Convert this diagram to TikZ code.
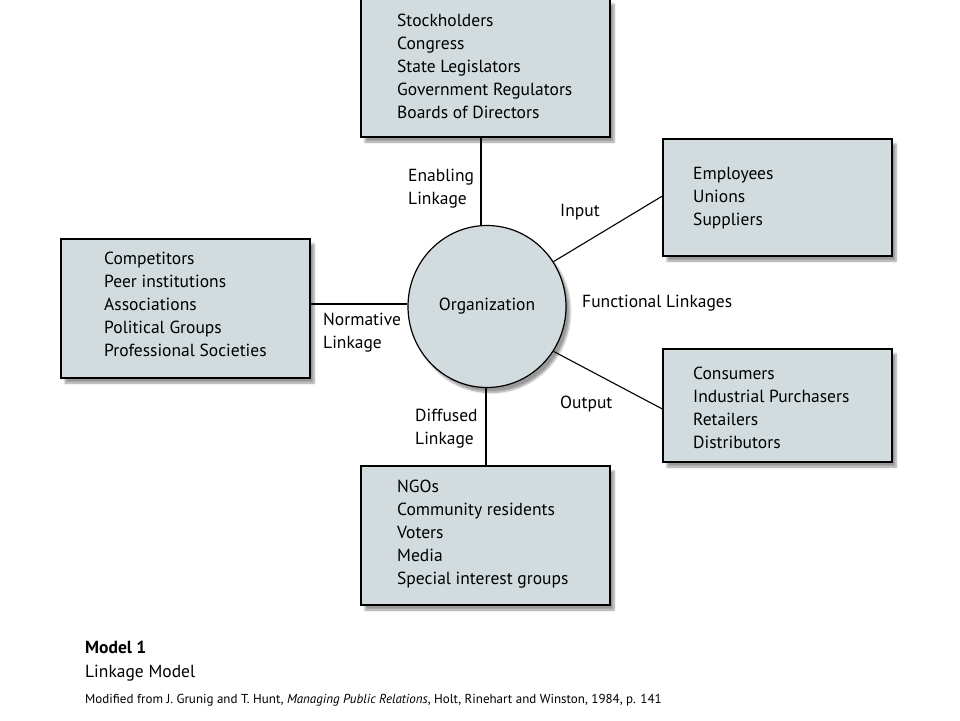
\documentclass[tikz,border=0pt]{standalone}
\usepackage{fontspec}
\setmainfont{PT Sans}
\usetikzlibrary{shadows.blur,shapes.geometric}
\definecolor{boxfill}{HTML}{D2DBDE}
\begin{document}
\begin{tikzpicture}[x=1pt,y=-1pt,
  box/.style={draw,line width=1.2pt,fill=boxfill,blur shadow={shadow xshift=4pt,shadow yshift=-5pt,shadow blur steps=6},minimum width=#1, inner sep=0pt},
  lst/.style={anchor=north west,align=left,font=\fontsize{17.5}{23}\selectfont,inner sep=0pt},
  ln/.style={line width=1.1pt}]
\useasboundingbox (0,0) rectangle (960,720);
\node[box=249pt,minimum height=138pt] (top) at (485.5,68) {};
\node[box=229pt,minimum height=117pt] (rt) at (777.5,197.5) {};
\node[box=249pt,minimum height=139pt] (lf) at (185.5,308.5) {};
\node[box=229pt,minimum height=113pt] (rb) at (777.5,405.5) {};
\node[box=249pt,minimum height=139pt] (bt) at (485.5,535.5) {};
\node[draw,line width=1.2pt,fill=boxfill,ellipse,minimum width=158pt,minimum height=162pt,inner sep=0pt,blur shadow={shadow xshift=4pt,shadow yshift=-5pt,shadow blur steps=6},font=\fontsize{17.5}{23}\selectfont] (org) at (487,306.5) {Organization};

\node[lst] (ttxt) at (397,14) {Stockholders\\Congress\\State Legislators\\Government Regulators\\Boards of Directors};
\node[lst] (rttxt) at (693,167) {Employees\\Unions\\Suppliers};
\node[lst] (lftxt) at (104,252) {Competitors\\Peer institutions\\Associations\\Political Groups\\Professional Societies};
\node[lst] (rbtxt) at (693,367) {Consumers\\Industrial Purchasers\\Retailers\\Distributors};
\node[lst] (bttxt) at (397,480) {NGOs\\Community residents\\Voters\\Media\\Special interest groups};

\coordinate (tj) at (481,137);
\coordinate (bj) at (486,466);
\draw[ln] (tj) -- (org.north -| tj);
\draw[ln] (bj) -- (org.south -| bj);
\draw[ln] (lf.east |- 0,304) coordinate (lj) -- (org.west |- lj);
\draw[ln] (org.34) -- (rt.west |- 0,196);
\draw[ln] (org.-34) -- (rb.west |- 0,409);

\node[lst] (l1) at (408,169) {Enabling\\Linkage};
\node[lst] (l2) at (560,204) {Input};
\node[lst] (l3) at (582,295) {Functional Linkages};
\node[lst] (l4) at (323,313) {Normative\\Linkage};
\node[lst] (l5) at (560,396) {Output};
\node[lst] (l6) at (415,409) {Diffused\\Linkage};

\node[anchor=north west,inner sep=0pt,font=\fontsize{17.5}{20}\selectfont\bfseries] (cap1) at (85,641) {Model 1};
\node[anchor=north west,inner sep=0pt,font=\fontsize{17.5}{20}\selectfont] (cap2) at (85,665) {Linkage Model};
\node[anchor=north west,inner sep=0pt,font=\fontsize{13}{14}\selectfont] (cap3) at (85,694) {Modified from J. Grunig and T. Hunt, \textit{Managing Public Relations}, Holt, Rinehart and Winston, 1984, p. 141};
\end{tikzpicture}
\end{document}
